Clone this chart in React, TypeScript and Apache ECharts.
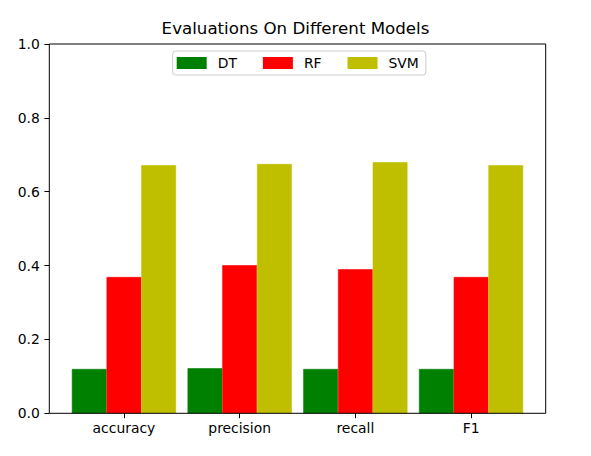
import { useEffect, useRef } from "react";
import * as echarts from "echarts";

const metrics = ["accuracy", "precision", "recall", "F1"];
const dtScores = [0.12, 0.122, 0.12, 0.12];
const rfScores = [0.369, 0.401, 0.39, 0.369];
const svmScores = [0.672, 0.675, 0.68, 0.672];
const yTicks = [0, 0.2, 0.4, 0.6, 0.8, 1.0];

const FONT = "DejaVu Sans";

export default function App() {
  const chartRef = useRef<HTMLDivElement>(null);

  useEffect(() => {
    if (!chartRef.current) return;
    const chart = echarts.init(chartRef.current, undefined, { renderer: "svg" });

    // dos grids: el marco completo (eje y) y uno interior para las categorías,
    // así el margen lateral imita el de matplotlib
    const plotLeft = 49.3;
    const plotWidth = 496.4;
    const unit = plotWidth / (metrics.length - 1 + 0.9 + 0.39);
    const innerLeft = plotLeft + (0.45 + 0.195 - 0.5) * unit;

    const barStyle = (color: string) => ({
      color,
      borderColor: color,
      borderWidth: 0.6,
    });

    const option: echarts.EChartsOption = {
      animation: false,
      backgroundColor: "#ffffff",
      title: {
        text: "Evaluations On Different Models",
        left: "center",
        top: 20,
        padding: 0,
        textStyle: { fontFamily: FONT, fontSize: 16.67, fontWeight: "normal", color: "#000" },
      },
      legend: {
        left: 172.7,
        top: 51,
        padding: [5, 7, 5, 4],
        itemWidth: 28,
        itemHeight: 10,
        itemGap: 26,
        icon: "rect",
        borderColor: "#cccccc",
        borderWidth: 1,
        borderRadius: 3,
        backgroundColor: "rgba(255,255,255,0.8)",
        textStyle: { fontFamily: FONT, fontSize: 13.9, color: "#000", padding: [0, 0, 0, 7] },
        data: ["DT", "RF", "SVM"],
      },
      grid: [
        {
          left: plotLeft,
          top: 44,
          width: plotWidth,
          height: 369.3,
          show: true,
          borderColor: "#000",
          borderWidth: 1,
          backgroundColor: "transparent",
          z: 3,
        },
        {
          left: innerLeft,
          top: 44,
          width: unit * metrics.length,
          height: 369.3,
        },
      ],
      xAxis: [
        {
          type: "value",
          gridIndex: 0,
          min: 0,
          max: 1,
          show: false,
        },
        {
          type: "category",
          gridIndex: 1,
          data: metrics,
          axisLine: { show: false },
          axisTick: { show: true, alignWithLabel: true, length: 4.9, lineStyle: { color: "#000" } },
          axisLabel: { margin: 8, fontFamily: FONT, fontSize: 13.9, color: "#000" },
          splitLine: { show: false },
        },
      ],
      yAxis: [
        {
          type: "value",
          gridIndex: 0,
          min: 0,
          max: 1,
          interval: 0.2,
          axisLine: { show: false },
          axisTick: { show: true, length: 4.9, lineStyle: { color: "#000" } },
          axisLabel: {
            margin: 9.5,
            fontFamily: FONT,
            fontSize: 13.9,
            color: "#000",
            formatter: (v: number) => (yTicks.some((t) => Math.abs(t - v) < 1e-9) ? v.toFixed(1) : ""),
          },
          splitLine: { show: false },
        },
        {
          type: "value",
          gridIndex: 1,
          min: 0,
          max: 1,
          show: false,
        },
      ],
      series: [
        {
          name: "DT",
          type: "bar",
          xAxisIndex: 1,
          yAxisIndex: 1,
          data: dtScores,
          barWidth: unit * 0.3,
          barGap: "0%",
          itemStyle: barStyle("#008000"),
        },
        {
          name: "RF",
          type: "bar",
          xAxisIndex: 1,
          yAxisIndex: 1,
          data: rfScores,
          barWidth: unit * 0.3,
          barGap: "0%",
          itemStyle: barStyle("#ff0000"),
        },
        {
          name: "SVM",
          type: "bar",
          xAxisIndex: 1,
          yAxisIndex: 1,
          data: svmScores,
          barWidth: unit * 0.3,
          barGap: "0%",
          itemStyle: barStyle("#bfbf00"),
        },
      ],
    };

    chart.setOption(option);

    return () => {
      chart.dispose();
    };
  }, []);

  return <div ref={chartRef} style={{ width: 591, height: 456, margin: -8 }} />;
}
